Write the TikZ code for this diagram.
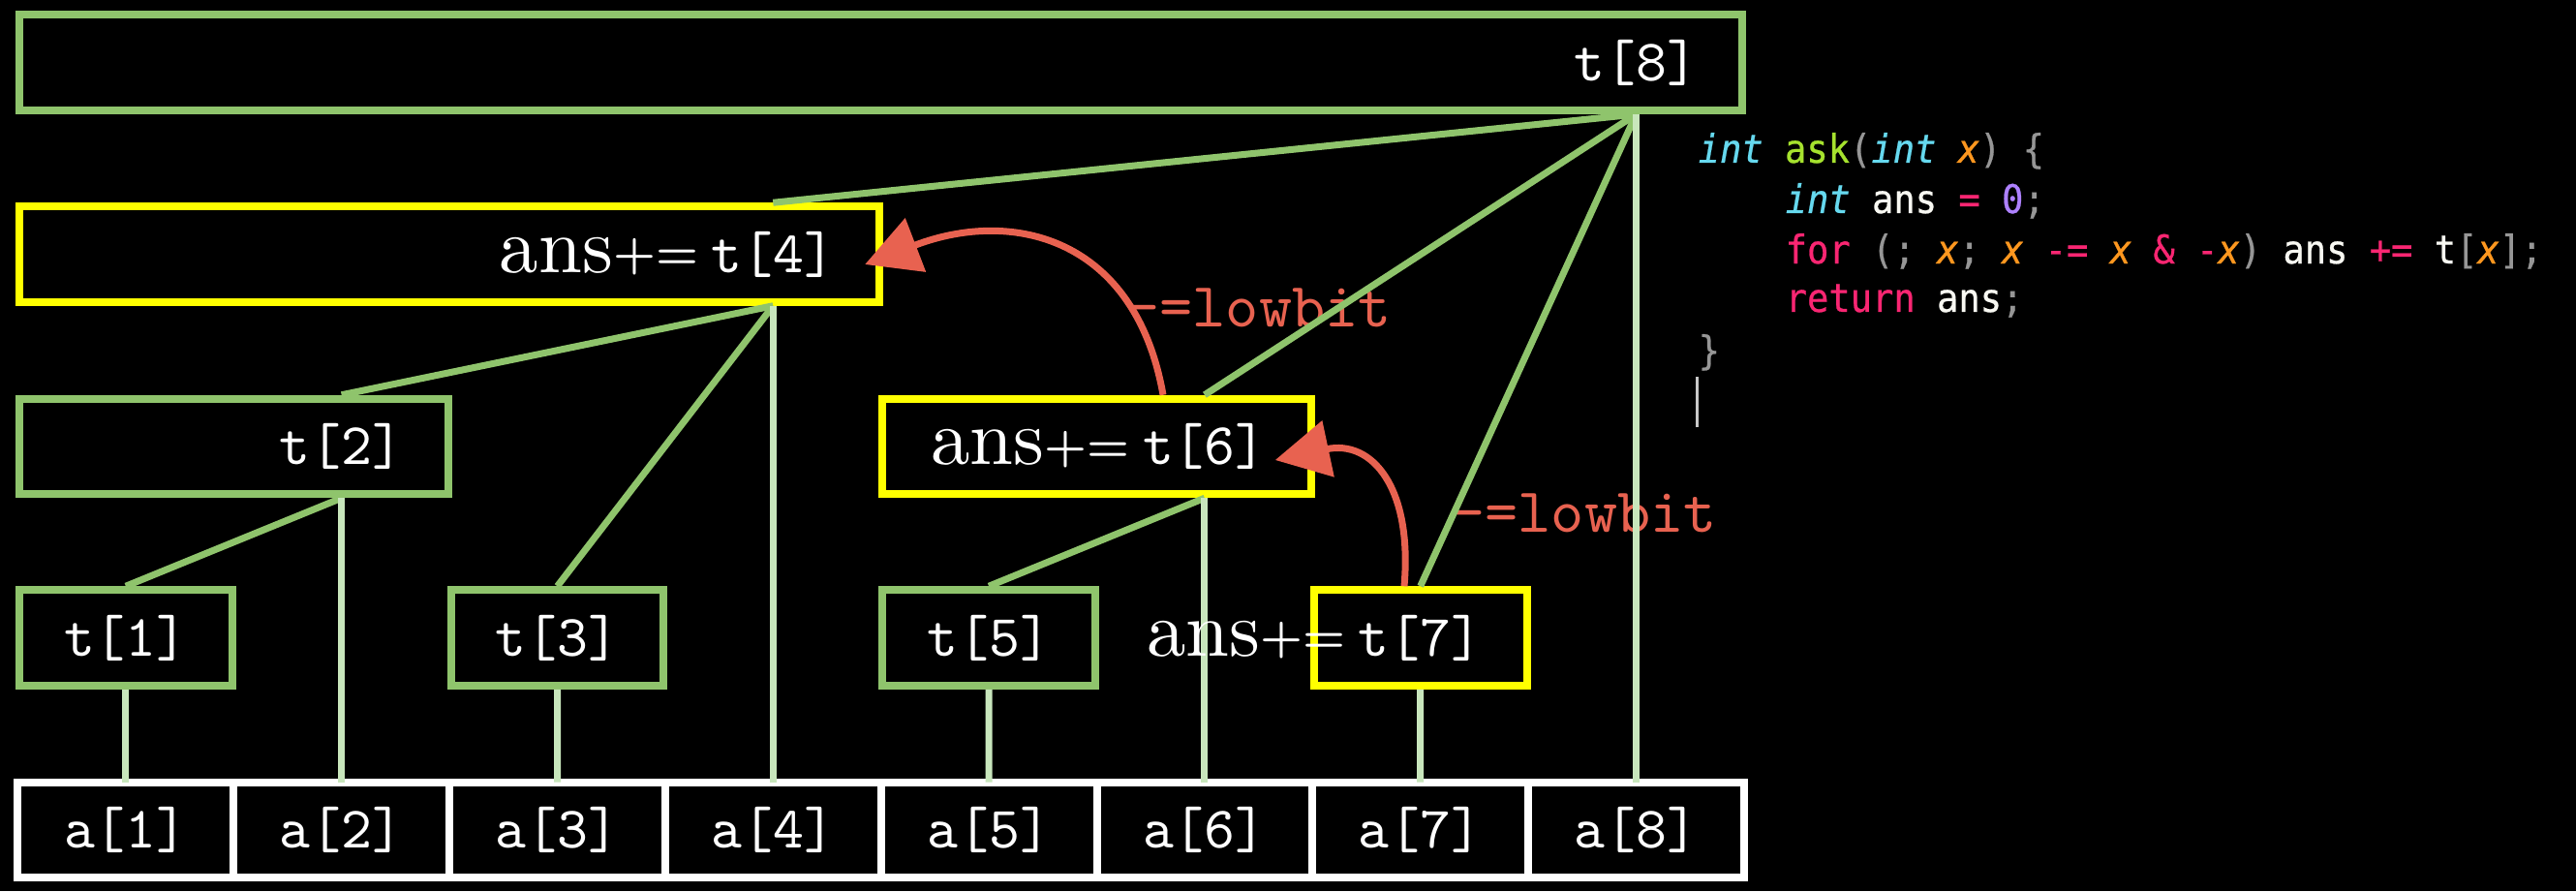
\documentclass[tikz,border=0pt]{standalone}
\usepackage{fontspec}
\usetikzlibrary{positioning, arrows.meta}
\newfontfamily\codefont[FakeStretch=0.91, FakeBold=0.6]{DejaVu Sans Mono}
\newfontfamily\ansfont{lmroman10-regular.otf}
\newfontfamily\opfont{lmroman10-bold.otf}
\newfontfamily\idxfont{lmmono10-regular.otf}
\definecolor{lgreen}{RGB}{143,196,108}
\definecolor{vgreen}{RGB}{200,230,188}
\definecolor{lyellow}{RGB}{255,255,0}
\definecolor{lred}{RGB}{232,98,80}
\definecolor{ctype}{RGB}{102,217,239}
\definecolor{cfun}{RGB}{166,226,46}
\definecolor{carg}{RGB}{253,151,31}
\definecolor{cop}{RGB}{249,38,114}
\definecolor{cnum}{RGB}{174,129,255}
\definecolor{cpunc}{RGB}{150,150,150}
\definecolor{cwhite}{RGB}{248,248,242}
\definecolor{cursor}{RGB}{200,200,200}
\begin{document}
\begin{tikzpicture}[
    cell/.style = {draw=white, line width=0.8mm, minimum width=2.228cm, minimum height=0.985cm, inner sep=0pt, outer sep=0pt, text=white, font=\fontsize{17.3}{20}\selectfont\idxfont},
    tree/.style = {draw=lgreen, line width=0.8mm, minimum height=0.985cm, inner sep=0pt},
    hit/.style = {tree, draw=lyellow},
    idx/.style = {text=white, font=\fontsize{17.3}{20}\selectfont\idxfont, inner sep=0pt},
    ans/.style = {text=white, font=\fontsize{23}{26}\selectfont\ansfont, inner sep=0pt, anchor=base east},
    link/.style = {draw=lgreen, line width=0.7mm},
    down/.style = {draw=vgreen, line width=0.7mm},
    jump/.style = {draw=lred, line width=0.7mm, -{Triangle[length=5.6mm, width=5.8mm]}},
    lowbit/.style = {text=lred, font=\fontsize{18.5}{21}\selectfont\idxfont, inner sep=0pt},
    code/.style = {font=\fontsize{11.6}{13}\selectfont\codefont, anchor=base west, inner sep=0pt}
  ]
    \fill[black] (0,0) rectangle (26.6,9.2);
    \useasboundingbox (0,0) rectangle (26.6,9.2);
    % array a
    \node[cell] (a1) at (1.299,0.6325) {a[1]};
    \node[cell, right=0pt of a1] (a2) {a[2]};
    \node[cell, right=0pt of a2] (a3) {a[3]};
    \node[cell, right=0pt of a3] (a4) {a[4]};
    \node[cell, right=0pt of a4] (a5) {a[5]};
    \node[cell, right=0pt of a5] (a6) {a[6]};
    \node[cell, right=0pt of a6] (a7) {a[7]};
    \node[cell, right=0pt of a7] (a8) {a[8]};
    % tree t
    \node[tree, minimum width=2.198cm] (t1) at (1.299,2.615) {};
    \node[tree, minimum width=4.426cm] (t2) at (2.413,4.59) {};
    \node[tree, minimum width=2.198cm] (t3) at (5.755,2.615) {};
    \node[hit, minimum width=8.882cm] (t4) at (4.641,6.575) {};
    \node[tree, minimum width=2.198cm] (t5) at (10.211,2.615) {};
    \node[hit, minimum width=4.426cm] (t6) at (11.325,4.59) {};
    \node[hit, minimum width=2.198cm] (t7) at (14.667,2.615) {};
    \node[tree, minimum width=17.794cm] (t8) at (9.097,8.5525) {};
    % lowbit steps
    \node[lowbit] (d1) at (13.00,6.02) {-=lowbit};
    \node[lowbit] (d2) at (16.36,3.90) {-=lowbit};
    % links
    \draw[link] (t8.south -| a8) -- (t4.north -| a4);
    \draw[link] (t8.south -| a8) -- (t6.north -| a6);
    \draw[link] (t8.south -| a8) -- (t7.north);
    \draw[down] (t8.south -| a8) -- (a8.north);
    \draw[link] (t4.south -| a4) -- (t2.north -| a2);
    \draw[link] (t4.south -| a4) -- (t3.north);
    \draw[down] (t4.south -| a4) -- (a4.north);
    \draw[link] (t2.south -| a2) -- (t1.north);
    \draw[down] (t2.south -| a2) -- (a2.north);
    \draw[link] (t6.south -| a6) -- (t5.north);
    \draw[down] (t6.south -| a6) -- (a6.north);
    \draw[down] (t1.south) -- (a1.north);
    \draw[down] (t3.south) -- (a3.north);
    \draw[down] (t5.south) -- (a5.north);
    \draw[down] (t7.south) -- (a7.north);
    % labels
    \node[idx] (l1) at (t1) {t[1]};
    \node[idx] (l2) at (t2 -| a2) {t[2]};
    \node[idx] (l3) at (t3) {t[3]};
    \node[idx] (l4) at (t4 -| a4) {t[4]};
    \node[idx] (l5) at (t5) {t[5]};
    \node[idx] (l6) at (t6 -| a6) {t[6]};
    \node[idx] (l7) at (t7) {t[7]};
    \node[idx] (l8) at (t8 -| a8) {t[8]};
    \node[ans] (s4) at ([xshift=-1.2mm]l4.base west) {ans{\fontsize{14}{16}\selectfont\opfont\raisebox{1pt}{+=}}};
    \node[ans] (s6) at ([xshift=-1.2mm]l6.base west) {ans{\fontsize{14}{16}\selectfont\opfont\raisebox{1pt}{+=}}};
    \node[ans] (s7) at ([xshift=-1.2mm]l7.base west) {ans{\fontsize{14}{16}\selectfont\opfont\raisebox{1pt}{+=}}};
    % jumps
    \draw[jump] ([xshift=6.85mm]t6.north) to[out=100, in=21, looseness=1.25] ([xshift=-1.9mm, yshift=-1.05mm]t4.east);
    \draw[jump] ([xshift=-1.67mm]t7.north) to[out=85, in=12, looseness=1.4] ([xshift=-4.1mm, yshift=-1.4mm]t6.east);
    % code
    \node[code] (c1) at (17.53,7.52) {\textcolor{ctype}{\itshape int} \textcolor{cfun}{ask}\textcolor{cpunc}{(}\textcolor{ctype}{\itshape int} \textcolor{carg}{\itshape x}\textcolor{cpunc}{) \{}};
    \node[code] (c2) at (18.43,7.00) {\textcolor{ctype}{\itshape int} \textcolor{cwhite}{ans} \textcolor{cop}{=} \textcolor{cnum}{0}\textcolor{cpunc}{;}};
    \node[code] (c3) at (18.43,6.48) {\textcolor{cop}{for} \textcolor{cpunc}{(;} \textcolor{carg}{\itshape x}\textcolor{cpunc}{;} \textcolor{carg}{\itshape x} \textcolor{cop}{-=} \textcolor{carg}{\itshape x} \textcolor{cop}{\&} \textcolor{cop}{-}\textcolor{carg}{\itshape x}\textcolor{cpunc}{)} \textcolor{cwhite}{ans} \textcolor{cop}{+=} \textcolor{cwhite}{t}\textcolor{cpunc}{[}\textcolor{carg}{\itshape x}\textcolor{cpunc}{];}};
    \node[code] (c4) at (18.43,5.98) {\textcolor{cop}{return} \textcolor{cwhite}{ans}\textcolor{cpunc}{;}};
    \node[code] (c5) at (17.53,5.44) {\textcolor{cpunc}{\}}};
    \node[anchor=south west, inner sep=0pt] (cur) at (17.50,4.78) {\textcolor{cursor}{\rule{1pt}{5.2mm}}};
\end{tikzpicture}
\end{document}
